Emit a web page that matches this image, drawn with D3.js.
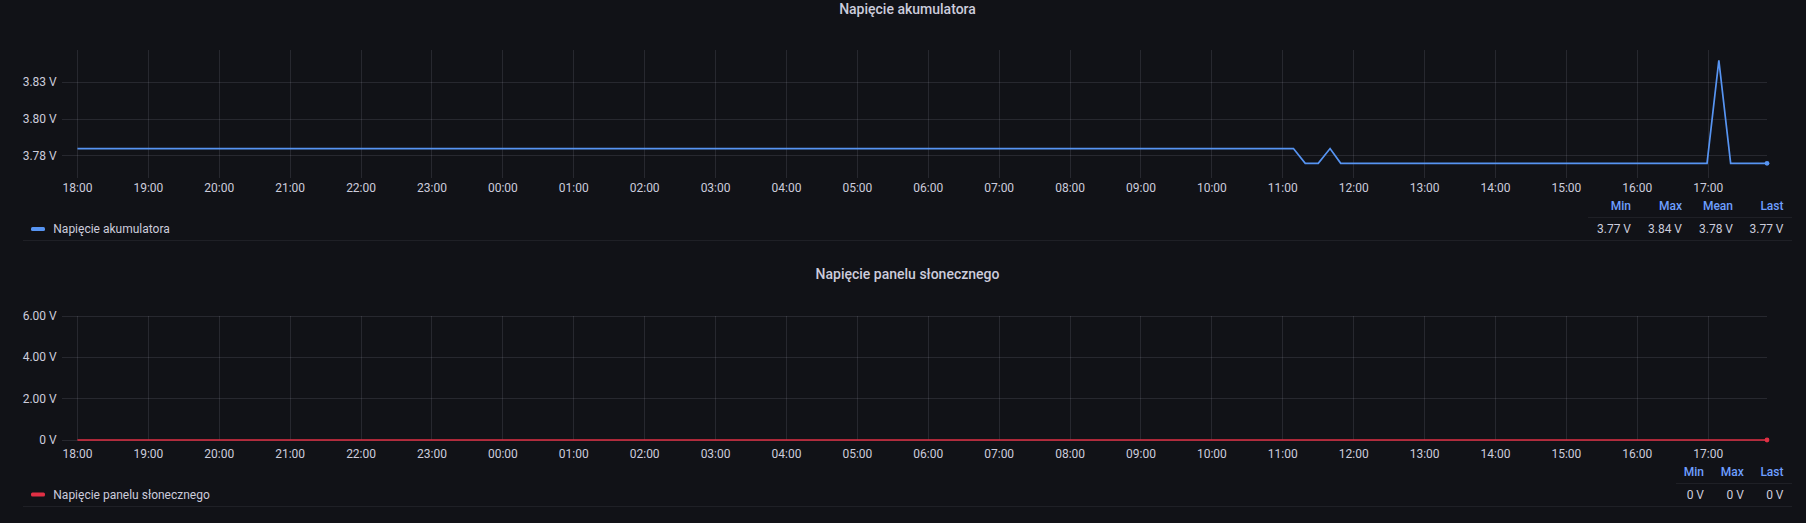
<!DOCTYPE html>
<html>
<head>
<meta charset="utf-8">
<script src="https://cdn.jsdelivr.net/npm/d3@7"></script>
<style>
  html, body { margin: 0; padding: 0; background: #111217; }
  svg { display: block; }
  text { font-family: Roboto, "Noto Sans", sans-serif; }
</style>
</head>
<body>
<svg id="chart" width="1806" height="523"></svg>
<script>
// ---------- DATA ----------
const domainStart = "2024-05-14T17:47:10";
const domainEnd   = "2024-05-15T17:49:45";

const batteryTimes  = ["2024-05-14T18:00", "2024-05-15T11:09", "2024-05-15T11:19", "2024-05-15T11:30",
                       "2024-05-15T11:40", "2024-05-15T11:49", "2024-05-15T16:59", "2024-05-15T17:09",
                       "2024-05-15T17:19", "2024-05-15T17:49:45"];
const batteryValues = [3.78, 3.78, 3.77, 3.77, 3.78, 3.77, 3.77, 3.84, 3.77, 3.77];

const solarTimes  = ["2024-05-14T18:00", "2024-05-15T17:49:45"];
const solarValues = [0, 0];

const batteryYDomain = [3.760, 3.847];
const batteryYTicks = [3.775, 3.800, 3.825];
const batteryYTickLabels = ["3.78 V", "3.80 V", "3.83 V"];

const solarYDomain = [0, 6];
const solarYTicks = [0, 2, 4, 6];
const solarYTickLabels = ["0 V", "2.00 V", "4.00 V", "6.00 V"];

const batteryTitle = "Napięcie akumulatora";
const solarTitle = "Napięcie panelu słonecznego";

const batteryStatNames = ["Min", "Max", "Mean", "Last"];
const batteryStatValues = ["3.77 V", "3.84 V", "3.78 V", "3.77 V"];
const solarStatNames = ["Min", "Max", "Last"];
const solarStatValues = ["0 V", "0 V", "0 V"];

// ---------- STYLE ----------
const BG = "#111217";
const TEXT = "#ccccdc";
const GRID = "rgba(204,204,220,0.12)";
const SEP = "rgba(204,204,220,0.08)";
const STAT_HEAD = "#6e9fff";
const BLUE = "#5794f2";
const RED = "#e02f44";

const svg = d3.select("#chart");
const parse = d3.isoParse;

const x = d3.scaleTime()
  .domain([parse(domainStart), parse(domainEnd)])
  .range([62.3, 1767]);

function panel(cfg) {
  const g = svg.append("g");
  const y = d3.scaleLinear().domain(cfg.yDomain).range([cfg.bottom, cfg.top]);

  // title
  g.append("text")
    .attr("x", 907.5).attr("y", cfg.titleY)
    .attr("text-anchor", "middle")
    .attr("fill", TEXT).attr("font-size", 14).attr("font-weight", 500)
    .text(cfg.title);

  // vertical grid + x tick labels
  const xt = x.ticks(d3.timeHour.every(1));
  g.append("g").selectAll("line").data(xt).join("line")
    .attr("x1", d => x(d)).attr("x2", d => x(d))
    .attr("y1", cfg.top).attr("y2", cfg.bottom)
    .attr("stroke", GRID).attr("stroke-width", 1)
    .attr("shape-rendering", "crispEdges");
  g.append("g").selectAll("text").data(xt).join("text")
    .attr("x", d => x(d)).attr("y", cfg.xLabelY)
    .attr("text-anchor", "middle").attr("dominant-baseline", "central")
    .attr("fill", TEXT).attr("font-size", 12)
    .text(d3.timeFormat("%H:%M"));

  // horizontal grid + y tick labels
  g.append("g").selectAll("line").data(cfg.yTicks).join("line")
    .attr("x1", x.range()[0]).attr("x2", x.range()[1])
    .attr("y1", d => y(d)).attr("y2", d => y(d))
    .attr("stroke", GRID).attr("stroke-width", 1)
    .attr("shape-rendering", "crispEdges");
  g.append("g").selectAll("text").data(cfg.yTicks).join("text")
    .attr("x", 56.7).attr("y", d => y(d))
    .attr("text-anchor", "end").attr("dominant-baseline", "central")
    .attr("fill", TEXT).attr("font-size", 12)
    .text((d, i) => cfg.yTickLabels[i]);

  // series
  const pts = cfg.times.map((t, i) => ({ t: parse(t), v: cfg.values[i] }));
  const line = d3.line().x(d => x(d.t)).y(d => y(d.v));
  g.append("path").datum(pts)
    .attr("d", line).attr("fill", "none")
    .attr("stroke", cfg.color).attr("stroke-width", 1.7)
    .attr("stroke-linejoin", "miter");
  const last = pts[pts.length - 1];
  g.append("circle")
    .attr("cx", x(last.t)).attr("cy", y(last.v)).attr("r", 2.4)
    .attr("fill", cfg.color);

  // legend
  g.append("rect")
    .attr("x", 31).attr("y", cfg.legendY - 2).attr("width", 14).attr("height", 4)
    .attr("rx", 1.5).attr("fill", cfg.color);
  g.append("text")
    .attr("x", 53.3).attr("y", cfg.legendY)
    .attr("dominant-baseline", "central")
    .attr("fill", TEXT).attr("font-size", 12)
    .text(cfg.title);
  g.append("line")
    .attr("x1", 23).attr("x2", 1791.5)
    .attr("y1", cfg.legendSepY).attr("y2", cfg.legendSepY)
    .attr("stroke", SEP).attr("shape-rendering", "crispEdges");
  g.append("line")
    .attr("x1", cfg.headSepX).attr("x2", 1791.5)
    .attr("y1", cfg.headSepY).attr("y2", cfg.headSepY)
    .attr("stroke", SEP).attr("shape-rendering", "crispEdges");

  g.append("g").selectAll("text").data(cfg.statNames).join("text")
    .attr("x", (d, i) => cfg.statRight[i]).attr("y", cfg.statHeadY)
    .attr("text-anchor", "end").attr("dominant-baseline", "central")
    .attr("fill", STAT_HEAD).attr("font-size", 12).attr("font-weight", 500)
    .text(d => d);
  g.append("g").selectAll("text").data(cfg.statValues).join("text")
    .attr("x", (d, i) => cfg.statRight[i]).attr("y", cfg.legendY)
    .attr("text-anchor", "end").attr("dominant-baseline", "central")
    .attr("fill", TEXT).attr("font-size", 12)
    .text(d => d);
}

panel({
  title: batteryTitle, titleY: 13.5,
  top: 50, bottom: 178, xLabelY: 187.7,
  yDomain: batteryYDomain, yTicks: batteryYTicks, yTickLabels: batteryYTickLabels,
  times: batteryTimes, values: batteryValues, color: BLUE,
  legendY: 229, legendSepY: 240.5, headSepY: 217.3, headSepX: 1588, statHeadY: 205.7,
  statNames: batteryStatNames, statValues: batteryStatValues,
  statRight: [1631, 1682, 1733, 1783.5]
});

panel({
  title: solarTitle, titleY: 279,
  top: 316, bottom: 440, xLabelY: 454,
  yDomain: solarYDomain, yTicks: solarYTicks, yTickLabels: solarYTickLabels,
  times: solarTimes, values: solarValues, color: RED,
  legendY: 494.5, legendSepY: 506, headSepY: 483.3, headSepX: 1676, statHeadY: 471.5,
  statNames: solarStatNames, statValues: solarStatValues,
  statRight: [1704, 1743.8, 1783.5]
});
</script>
</body>
</html>
